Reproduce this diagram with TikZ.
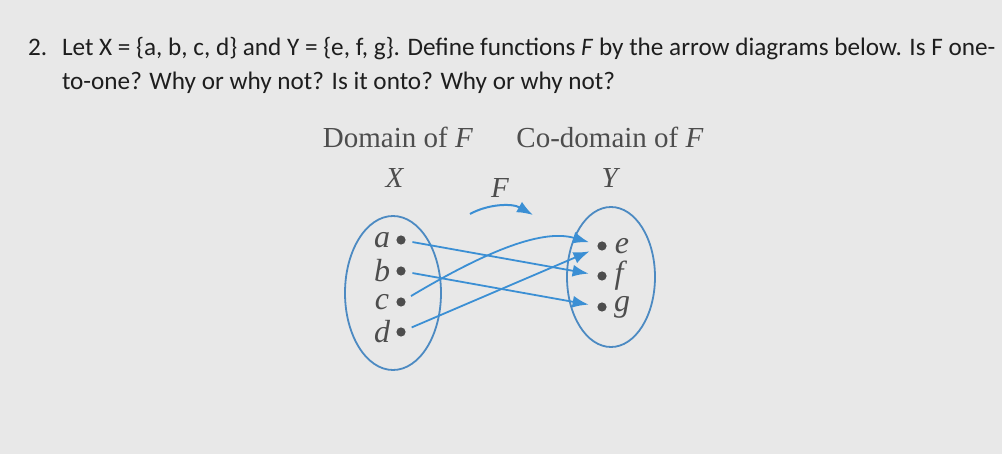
\documentclass[tikz,border=0pt]{standalone}
\usepackage{fontspec}
\setmainfont{Liberation Serif}
\newfontfamily\qfont{Carlito}
\usetikzlibrary{arrows.meta}
\definecolor{fblue}{HTML}{3B8FD4}
\definecolor{oblue}{HTML}{4C8AC2}
\definecolor{pen}{HTML}{4D4D4D}
\definecolor{ink}{HTML}{1E1E1E}
\definecolor{paper}{HTML}{E8E8E8}
\begin{document}
\begin{tikzpicture}[x=0.5pt, y=0.5pt, yscale=-1, inner sep=0pt, outer sep=0pt,
	elt/.style={circle, fill=pen, minimum size=4.6pt},
	lbl/.style={font=\fontsize{16}{16}\selectfont\itshape, text=pen},
	head/.style={font=\fontsize{14.5}{15}\selectfont, text=pen},
	qtext/.style={anchor=base west, font=\qfont\fontsize{12.6}{13}\selectfont, text=ink},
	map/.style={-{Latex[length=8pt, width=6pt]}, fblue, line width=0.9pt, shorten <=3.5pt, shorten >=4.5pt}]
\fill[paper] (0,0) rectangle (1002,454);
\useasboundingbox (0,0) rectangle (1002,454);
	\node[qtext] (num) at (28,56) {2.};
	\node[qtext] (q1) at (62,56) {Let X = \{a, b, c, d\} and Y = \{e, f, g\}. Define functions \textit{F} by the arrow diagrams below. Is F one-};
	\node[qtext] (q2) at (62,90) {to-one? Why or why not? Is it onto? Why or why not?};
	\node[head, anchor=base] (dom) at (398,148) {Domain of \textit{F}};
	\node[head, anchor=base] (cod) at (610,148) {Co-domain of \textit{F}};
	\node[head, anchor=base] (X) at (395,188) {\textit{X}};
	\node[head, anchor=base] (Y) at (611,188) {\textit{Y}};
	\node[head, anchor=base] (F) at (500,198) {\textit{F}};
	\coordinate (fl) at (470,214);
	\coordinate (fr) at (533,215);
	\draw[fblue, line width=1pt, -{Latex[length=8pt, width=6pt]}] (fl) .. controls (488,204) and (512,203) .. (fr);
	\draw[oblue, line width=0.9pt] (393,293) ellipse [x radius=48, y radius=77];
	\draw[oblue, line width=0.9pt] (611,277) ellipse [x radius=44, y radius=70];
	\node[elt] (a) at (401,240) {};
	\node[elt] (b) at (401,271) {};
	\node[elt] (c) at (401,302) {};
	\node[elt] (d) at (401,332) {};
	\node[elt] (e) at (602,246) {};
	\node[elt] (f) at (602,276) {};
	\node[elt] (g) at (602,307) {};
	\node[lbl] (la) at (382,240) {a};
	\node[lbl] (lb) at (382,271) {b};
	\node[lbl] (lc) at (382,302) {c};
	\node[lbl] (ld) at (382,332) {d};
	\node[lbl] (le) at (622,246) {e};
	\node[lbl] (lf) at (619,276) {f};
	\node[lbl] (lg) at (622,307) {g};
	\draw[map] (a) -- (f);
	\draw[map] (b) -- (g);
	\draw[map] (c) .. controls (480,255) and (540,228) .. (e);
	\draw[map] (d) -- (e);
\end{tikzpicture}
\end{document}
